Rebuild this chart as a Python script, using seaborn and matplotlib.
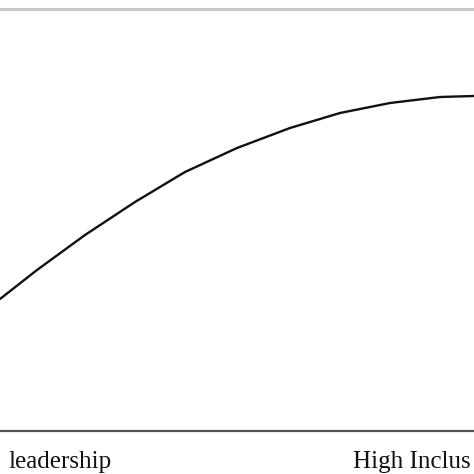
import numpy as np
import pandas as pd
import matplotlib
matplotlib.use("Agg")
import matplotlib.pyplot as plt
import seaborn as sns

pos = [0, 37, 85, 135, 185, 237, 290, 340, 390, 440, 474]
effect = [299, 270, 235, 202, 172, 148, 128, 113, 103, 97, 96]
labels = ["leadership", "High Inclus"]

sns.set_style("white")
plt.rcParams['font.family'] = ['Liberation Serif', 'DejaVu Serif']

fig = plt.figure(figsize=(4.74, 4.74), dpi=100)
ax = fig.add_axes([0, 0, 1, 1])

df = pd.DataFrame({"pos": pos, "effect": effect})
sns.lineplot(data=df, x="pos", y="effect", color="#111111", linewidth=1.7, ax=ax)

# frame lines
ax.axhline(9, color="#c8c8c8", linewidth=2.2)
ax.axhline(431, color="#555555", linewidth=1.6)

ax.text(8, 468, labels[0], fontsize=18, color="#111111", va="baseline", ha="left")
ax.text(471, 468, labels[1], fontsize=18, color="#111111", va="baseline", ha="right")

ax.set_xlim(0, 474)
ax.set_ylim(474, 0)
ax.set_axis_off()

fig.savefig("out.png", dpi=100)
